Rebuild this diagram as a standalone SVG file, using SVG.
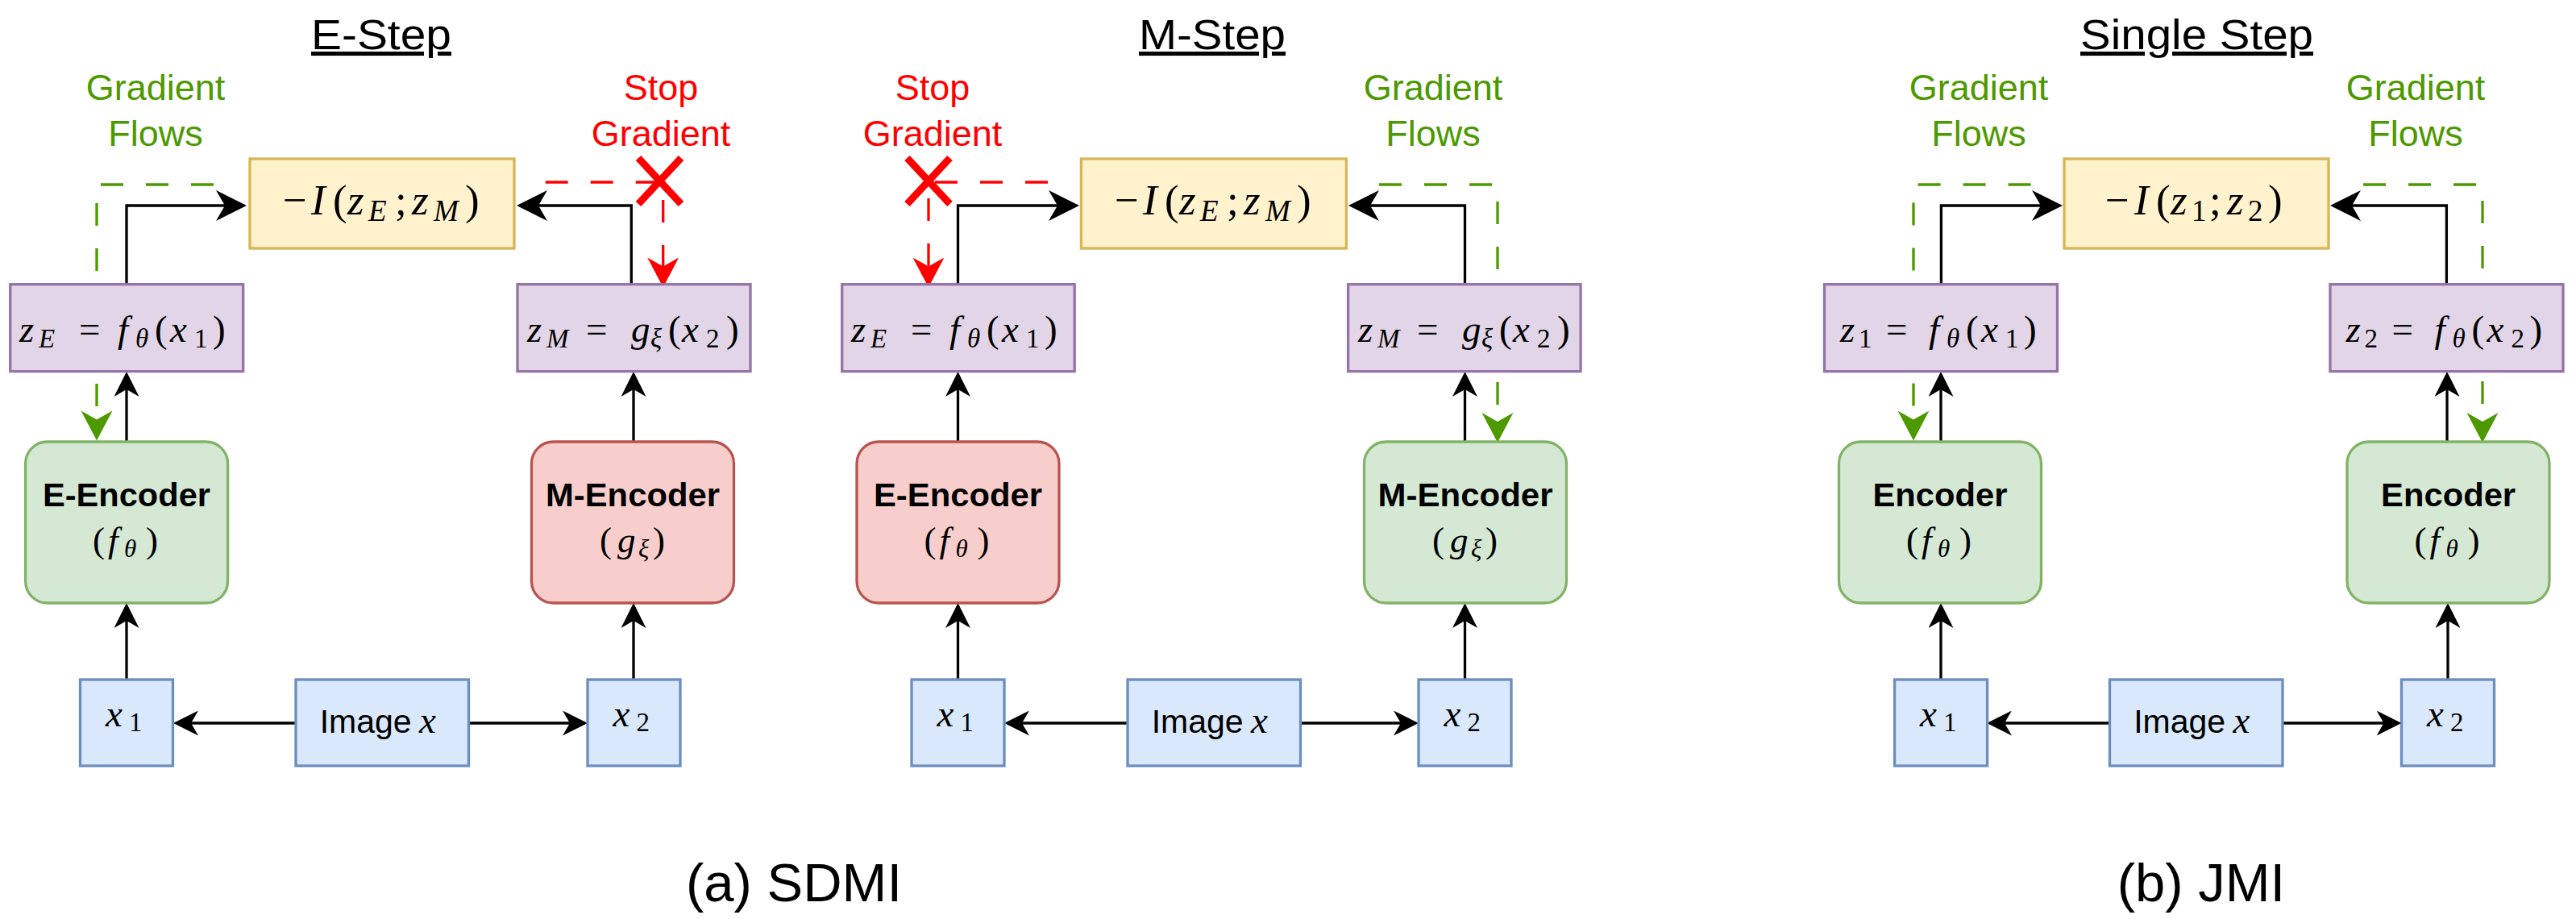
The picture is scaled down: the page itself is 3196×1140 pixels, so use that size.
<svg xmlns="http://www.w3.org/2000/svg" width="3196" height="1140" viewBox="0 0 3196 1140">
<defs>
<style>
.bg{fill:#ffffff}
.yel{fill:#fff2cc;stroke:#d6b656;stroke-width:3.3}
.pur{fill:#e1d5e7;stroke:#9673a6;stroke-width:3.3}
.grn{fill:#d5e8d4;stroke:#82b366;stroke-width:3.3}
.red{fill:#f8cecc;stroke:#b85450;stroke-width:3.3}
.blu{fill:#dae8fc;stroke:#6c8ebf;stroke-width:3.3}
.ln{fill:none;stroke:#000;stroke-width:3.3}
.gd{fill:none;stroke:#4d9900;stroke-width:3.3;stroke-dasharray:28 28}
.rd{fill:none;stroke:#ff0000;stroke-width:3.3;stroke-dasharray:28 28}
.x{stroke:#ff0000;stroke-width:9;fill:none}
.title{font-family:"Liberation Sans",Arial,Helvetica,sans-serif;font-size:51px;fill:#000;text-decoration:underline}
.gl{font-family:"Liberation Sans",Arial,Helvetica,sans-serif;font-size:45px;fill:#4d9900;text-anchor:middle}
.rl{font-family:"Liberation Sans",Arial,Helvetica,sans-serif;font-size:45px;fill:#ff0000;text-anchor:middle}
.enc{font-family:"Liberation Sans",Arial,Helvetica,sans-serif;font-size:41px;font-weight:bold;fill:#000;text-anchor:middle}
.cap{font-family:"Liberation Sans",Arial,Helvetica,sans-serif;font-size:67px;fill:#000;text-anchor:middle}
.img{font-family:"Liberation Sans",Arial,Helvetica,sans-serif;font-size:41px;fill:#000;font-style:normal}
.m{font-family:"Liberation Serif","Times New Roman",serif;font-style:italic;fill:#000}
.r{font-style:normal}
.my{font-size:53px}
.sy{font-size:37px}
.mp{font-size:47px}
.sp{font-size:33px}
.me{font-size:45px}
.se{font-size:31px}
</style>
<marker id="ab" viewBox="0 0 38 38" refX="30" refY="19" markerWidth="38" markerHeight="38" orient="auto" markerUnits="userSpaceOnUse"><path d="M0,0 L38,19 L0,38 L11,19 Z" fill="#000"/></marker>
<marker id="as" viewBox="0 0 31 31" refX="23" refY="15.5" markerWidth="31" markerHeight="31" orient="auto" markerUnits="userSpaceOnUse"><path d="M0,0 L31,15.5 L0,31 L9,15.5 Z" fill="#000"/></marker>
<marker id="ag" viewBox="0 0 37 39" refX="29" refY="19.5" markerWidth="37" markerHeight="39" orient="auto" markerUnits="userSpaceOnUse"><path d="M0,0 L37,19.5 L0,39 L11,19.5 Z" fill="#4d9900"/></marker>
<marker id="ar" viewBox="0 0 37 39" refX="29" refY="19.5" markerWidth="37" markerHeight="39" orient="auto" markerUnits="userSpaceOnUse"><path d="M0,0 L37,19.5 L0,39 L11,19.5 Z" fill="#ff0000"/></marker>
</defs>
<rect class="bg" x="0" y="0" width="3196" height="1140"/>

<g id="titles">
<text class="title" x="386" y="61" textLength="174" lengthAdjust="spacingAndGlyphs">E-Step</text>
<text class="title" x="1413" y="61" textLength="182" lengthAdjust="spacingAndGlyphs">M-Step</text>
<text class="title" x="2581" y="61" textLength="289" lengthAdjust="spacingAndGlyphs">Single Step</text>
</g>

<g id="labels">
<text class="gl" x="193" y="124">Gradient</text><text class="gl" x="193" y="181">Flows</text>
<text class="rl" x="820" y="124">Stop</text><text class="rl" x="820" y="181">Gradient</text>
<text class="rl" x="1157" y="124">Stop</text><text class="rl" x="1157" y="181">Gradient</text>
<text class="gl" x="1778" y="124">Gradient</text><text class="gl" x="1778" y="181">Flows</text>
<text class="gl" x="2455" y="124">Gradient</text><text class="gl" x="2455" y="181">Flows</text>
<text class="gl" x="2997" y="124">Gradient</text><text class="gl" x="2997" y="181">Flows</text>
</g>

<g id="connectors">
<path class="ln" d="M157,843 V756" marker-end="url(#as)"/>
<path class="ln" d="M157,548 V469" marker-end="url(#as)"/>
<path class="ln" d="M367,897 H223" marker-end="url(#as)"/>
<path class="ln" d="M581.5,897 H721" marker-end="url(#as)"/>
<path class="ln" d="M786,843 V756" marker-end="url(#as)"/>
<path class="ln" d="M786,548 V469" marker-end="url(#as)"/>
<path class="ln" d="M157,352.7 V255 H298" marker-end="url(#ab)"/>
<path class="ln" d="M783.3,352.7 V255 H649" marker-end="url(#ab)"/>
<path class="gd" d="M265,229 H120 V538.5" marker-end="url(#ag)"/>
<path class="rd" d="M676.7,226 H822.7 V348.5" marker-end="url(#ar)"/>
<path class="ln" d="M1188.5,843 V756" marker-end="url(#as)"/>
<path class="ln" d="M1188.5,548 V469" marker-end="url(#as)"/>
<path class="ln" d="M1399,897 H1254" marker-end="url(#as)"/>
<path class="ln" d="M1613.5,897 H1752" marker-end="url(#as)"/>
<path class="ln" d="M1817.5,843 V756" marker-end="url(#as)"/>
<path class="ln" d="M1817.5,548 V469" marker-end="url(#as)"/>
<path class="ln" d="M1188.5,352.7 V255 H1331" marker-end="url(#ab)"/>
<path class="ln" d="M1817.5,352.7 V255 H1681" marker-end="url(#ab)"/>
<path class="rd" d="M1300,226 H1152 V348.5" marker-end="url(#ar)"/>
<path class="gd" d="M1711,229 H1858 V541" marker-end="url(#ag)"/>
<path class="ln" d="M2408,843 V756" marker-end="url(#as)"/>
<path class="ln" d="M2408,548 V469" marker-end="url(#as)"/>
<path class="ln" d="M2617.5,897 H2473" marker-end="url(#as)"/>
<path class="ln" d="M2832,897 H2971.5" marker-end="url(#as)"/>
<path class="ln" d="M3037,843 V756" marker-end="url(#as)"/>
<path class="ln" d="M3036,548 V469" marker-end="url(#as)"/>
<path class="ln" d="M2408.4,352.7 V255 H2551" marker-end="url(#ab)"/>
<path class="ln" d="M3035.4,352.7 V255 H2899" marker-end="url(#ab)"/>
<path class="gd" d="M2519.6,229 H2374 V538.5" marker-end="url(#ag)"/>
<path class="gd" d="M2932,229 H3080 V541" marker-end="url(#ag)"/>
</g>

<g id="stop-marks">
<path class="x" d="M792,196 L845,253 M845,196 L792,253"/>
<path class="x" d="M1125.5,196 L1178.5,253 M1178.5,196 L1125.5,253"/>
</g>

<g id="p1-loss">
<rect class="yel" x="310" y="197" width="328" height="111"/>
<text class="m my"><tspan class="r" x="351" y="266">−</tspan><tspan x="386" y="266">I</tspan><tspan class="r" x="413" y="266">(</tspan><tspan x="431" y="266">z</tspan><tspan class="sy" x="457" y="274">E</tspan><tspan class="r" x="490" y="266">;</tspan><tspan x="511" y="266">z</tspan><tspan class="sy" x="538" y="274">M</tspan><tspan class="r" x="577" y="266">)</tspan></text>
</g>
<g id="p1-zE">
<rect class="pur" x="12.7" y="352.7" width="289" height="108"/>
<text class="m mp"><tspan x="24" y="424">z</tspan><tspan class="sp" x="48" y="431">E</tspan><tspan class="r" x="98" y="424">=</tspan><tspan x="146" y="424">f</tspan><tspan class="sp" x="168" y="431">θ</tspan><tspan class="r" x="192" y="424">(</tspan><tspan x="211" y="424">x</tspan><tspan class="r sp" x="241" y="431">1</tspan><tspan class="r" x="264" y="424">)</tspan></text>
</g>
<g id="p1-zM">
<rect class="pur" x="642" y="352.7" width="289" height="108"/>
<text class="m mp"><tspan x="654" y="424">z</tspan><tspan class="sp" x="678" y="431">M</tspan><tspan class="r" x="727" y="424">=</tspan><tspan x="783" y="424">g</tspan><tspan class="sp" x="807" y="431">ξ</tspan><tspan class="r" x="829" y="424">(</tspan><tspan x="846" y="424">x</tspan><tspan class="r sp" x="876" y="431">2</tspan><tspan class="r" x="901" y="424">)</tspan></text>
</g>
<g id="p1-eenc">
<rect class="grn" x="31.6" y="548" width="251" height="200" rx="27"/>
<text class="enc" x="157" y="628" textLength="208" lengthAdjust="spacingAndGlyphs">E-Encoder</text>
<text class="m me"><tspan class="r" x="115" y="685">(</tspan><tspan x="134" y="685">f</tspan><tspan class="se" x="154" y="691">θ</tspan><tspan class="r" x="181" y="685">)</tspan></text>
</g>
<g id="p1-menc">
<rect class="red" x="659.5" y="548" width="251" height="200" rx="27"/>
<text class="enc" x="785" y="628" textLength="216" lengthAdjust="spacingAndGlyphs">M-Encoder</text>
<text class="m me"><tspan class="r" x="744" y="685">(</tspan><tspan x="766" y="685">g</tspan><tspan class="se" x="792" y="691">ξ</tspan><tspan class="r" x="810" y="685">)</tspan></text>
</g>
<g id="p1-x1">
<rect class="blu" x="99.5" y="843" width="115" height="107"/>
<text class="m mp"><tspan x="131" y="901">x</tspan><tspan class="r sp" x="160" y="907">1</tspan></text>
</g>
<g id="p1-img">
<rect class="blu" x="367" y="843" width="214.5" height="107"/>
<text class="img" x="396.7" y="909">Image</text>
<text class="m mp" x="520" y="909">x</text>
</g>
<g id="p1-x2">
<rect class="blu" x="729" y="843" width="115" height="107"/>
<text class="m mp"><tspan x="760.5" y="901">x</tspan><tspan class="r sp" x="789.5" y="907">2</tspan></text>
</g>

<g id="p2-loss">
<rect class="yel" x="1341.4" y="197" width="329" height="111"/>
<text class="m my"><tspan class="r" x="1383" y="266">−</tspan><tspan x="1418" y="266">I</tspan><tspan class="r" x="1445" y="266">(</tspan><tspan x="1463" y="266">z</tspan><tspan class="sy" x="1489" y="274">E</tspan><tspan class="r" x="1522" y="266">;</tspan><tspan x="1543" y="266">z</tspan><tspan class="sy" x="1570" y="274">M</tspan><tspan class="r" x="1609" y="266">)</tspan></text>
</g>
<g id="p2-zE">
<rect class="pur" x="1044.7" y="352.7" width="288.5" height="108"/>
<text class="m mp"><tspan x="1056" y="424">z</tspan><tspan class="sp" x="1080" y="431">E</tspan><tspan class="r" x="1130" y="424">=</tspan><tspan x="1178" y="424">f</tspan><tspan class="sp" x="1200" y="431">θ</tspan><tspan class="r" x="1224" y="424">(</tspan><tspan x="1243" y="424">x</tspan><tspan class="r sp" x="1273" y="431">1</tspan><tspan class="r" x="1296" y="424">)</tspan></text>
</g>
<g id="p2-zM">
<rect class="pur" x="1672.6" y="352.7" width="288.5" height="108"/>
<text class="m mp"><tspan x="1685" y="424">z</tspan><tspan class="sp" x="1709" y="431">M</tspan><tspan class="r" x="1758" y="424">=</tspan><tspan x="1814" y="424">g</tspan><tspan class="sp" x="1838" y="431">ξ</tspan><tspan class="r" x="1860" y="424">(</tspan><tspan x="1877" y="424">x</tspan><tspan class="r sp" x="1907" y="431">2</tspan><tspan class="r" x="1932" y="424">)</tspan></text>
</g>
<g id="p2-eenc">
<rect class="red" x="1063" y="548" width="251" height="200" rx="27"/>
<text class="enc" x="1188.5" y="628" textLength="209" lengthAdjust="spacingAndGlyphs">E-Encoder</text>
<text class="m me"><tspan class="r" x="1146.5" y="685">(</tspan><tspan x="1165.5" y="685">f</tspan><tspan class="se" x="1185.5" y="691">θ</tspan><tspan class="r" x="1212.5" y="685">)</tspan></text>
</g>
<g id="p2-menc">
<rect class="grn" x="1692.5" y="548" width="251" height="200" rx="27"/>
<text class="enc" x="1818" y="628" textLength="217" lengthAdjust="spacingAndGlyphs">M-Encoder</text>
<text class="m me"><tspan class="r" x="1777" y="685">(</tspan><tspan x="1799" y="685">g</tspan><tspan class="se" x="1825" y="691">ξ</tspan><tspan class="r" x="1843" y="685">)</tspan></text>
</g>
<g id="p2-x1">
<rect class="blu" x="1131" y="843" width="115" height="107"/>
<text class="m mp"><tspan x="1162.5" y="901">x</tspan><tspan class="r sp" x="1191.5" y="907">1</tspan></text>
</g>
<g id="p2-img">
<rect class="blu" x="1399" y="843" width="214.5" height="107"/>
<text class="img" x="1428.7" y="909">Image</text>
<text class="m mp" x="1552" y="909">x</text>
</g>
<g id="p2-x2">
<rect class="blu" x="1760" y="843" width="115" height="107"/>
<text class="m mp"><tspan x="1791.5" y="901">x</tspan><tspan class="r sp" x="1820.5" y="907">2</tspan></text>
</g>

<g id="p3-loss">
<rect class="yel" x="2561" y="197" width="328" height="111"/>
<text class="m my"><tspan class="r" x="2612" y="266">−</tspan><tspan x="2648" y="266">I</tspan><tspan class="r" x="2675" y="266">(</tspan><tspan x="2693" y="266">z</tspan><tspan class="r sy" x="2719" y="274">1</tspan><tspan class="r" x="2741" y="266">;</tspan><tspan x="2763" y="266">z</tspan><tspan class="r sy" x="2789" y="274">2</tspan><tspan class="r" x="2814" y="266">)</tspan></text>
</g>
<g id="p3-z1">
<rect class="pur" x="2263.5" y="352.7" width="289" height="108"/>
<text class="m mp"><tspan x="2283" y="424">z</tspan><tspan class="r sp" x="2306" y="431">1</tspan><tspan class="r" x="2340" y="424">=</tspan><tspan x="2393" y="424">f</tspan><tspan class="sp" x="2415" y="431">θ</tspan><tspan class="r" x="2439" y="424">(</tspan><tspan x="2458" y="424">x</tspan><tspan class="r sp" x="2488" y="431">1</tspan><tspan class="r" x="2511" y="424">)</tspan></text>
</g>
<g id="p3-z2">
<rect class="pur" x="2891" y="352.7" width="289" height="108"/>
<text class="m mp"><tspan x="2910.5" y="424">z</tspan><tspan class="r sp" x="2933.5" y="431">2</tspan><tspan class="r" x="2967.5" y="424">=</tspan><tspan x="3020.5" y="424">f</tspan><tspan class="sp" x="3042.5" y="431">θ</tspan><tspan class="r" x="3066.5" y="424">(</tspan><tspan x="3085.5" y="424">x</tspan><tspan class="r sp" x="3115.5" y="431">2</tspan><tspan class="r" x="3138.5" y="424">)</tspan></text>
</g>
<g id="p3-enc1">
<rect class="grn" x="2281.5" y="548" width="251" height="200" rx="27"/>
<text class="enc" x="2407" y="628" textLength="167" lengthAdjust="spacingAndGlyphs">Encoder</text>
<text class="m me"><tspan class="r" x="2365" y="685">(</tspan><tspan x="2384" y="685">f</tspan><tspan class="se" x="2404" y="691">θ</tspan><tspan class="r" x="2431" y="685">)</tspan></text>
</g>
<g id="p3-enc2">
<rect class="grn" x="2912" y="548" width="251" height="200" rx="27"/>
<text class="enc" x="3037.6" y="628" textLength="167" lengthAdjust="spacingAndGlyphs">Encoder</text>
<text class="m me"><tspan class="r" x="2995.6" y="685">(</tspan><tspan x="3014.6" y="685">f</tspan><tspan class="se" x="3034.6" y="691">θ</tspan><tspan class="r" x="3061.6" y="685">)</tspan></text>
</g>
<g id="p3-x1">
<rect class="blu" x="2350.6" y="843" width="115" height="107"/>
<text class="m mp"><tspan x="2382" y="901">x</tspan><tspan class="r sp" x="2411" y="907">1</tspan></text>
</g>
<g id="p3-img">
<rect class="blu" x="2617.5" y="843" width="214.5" height="107"/>
<text class="img" x="2647.2" y="909">Image</text>
<text class="m mp" x="2770.5" y="909">x</text>
</g>
<g id="p3-x2">
<rect class="blu" x="2979.5" y="843" width="115" height="107"/>
<text class="m mp"><tspan x="3011" y="901">x</tspan><tspan class="r sp" x="3040" y="907">2</tspan></text>
</g>

<g id="captions">
<text class="cap" x="985" y="1118">(a) SDMI</text>
<text class="cap" x="2731" y="1118">(b) JMI</text>
</g>
</svg>
